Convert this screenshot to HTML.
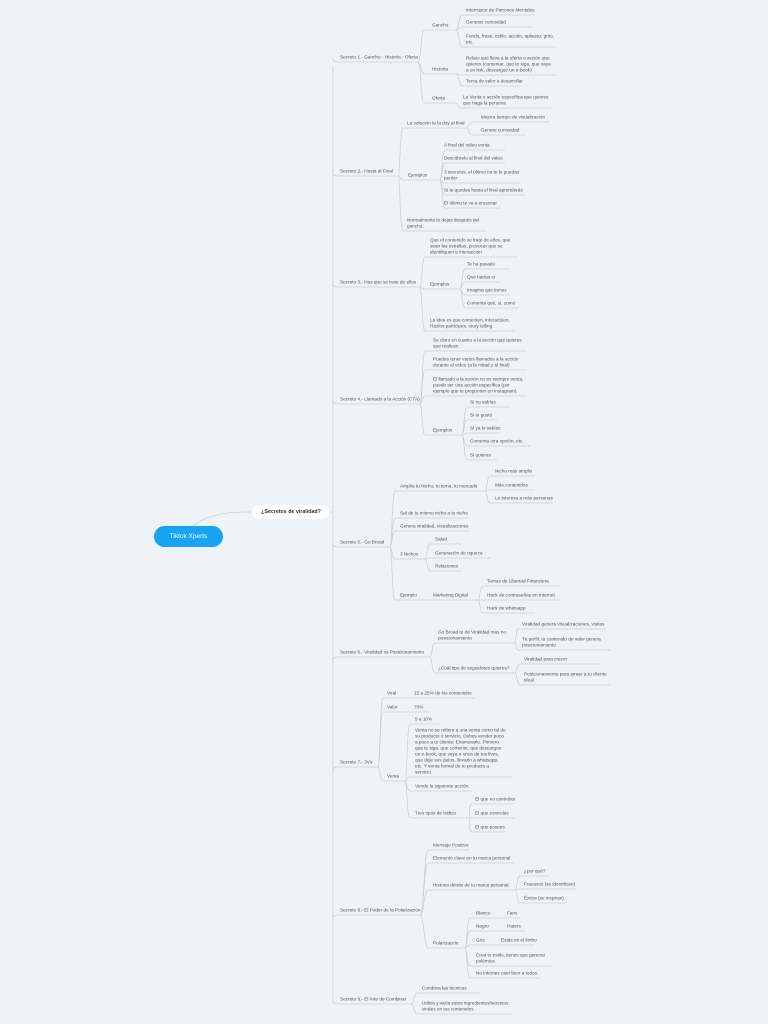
<!DOCTYPE html>
<html><head><meta charset="utf-8"><style>
body{margin:0;width:768px;height:1024px;background:#eef3f7;position:relative;overflow:hidden;font-family:"Liberation Sans",sans-serif}
.t{position:absolute;font-size:4.7px;line-height:6px;color:#555;white-space:nowrap;transform:translateY(calc(-100% - 1.5px))}
svg{position:absolute;left:0;top:0}
path{fill:none;stroke:#c9d2d9;stroke-width:0.8}
</style></head><body>
<svg width="768" height="1024">
<path d="M190 528 C210 512 232 512 252 512"/>
<path d="M330 512 H333"/>
<path d="M333 66 V1000"/>
<path d="M333 58 Q333 62 337 62 H418"/>
<path d="M333 172 Q333 176 337 176 H398"/>
<path d="M333 283 Q333 287 337 287 H420"/>
<path d="M333 400 Q333 404 337 404 H420"/>
<path d="M333 543 Q333 547 337 547 H390"/>
<path d="M333 661 Q333 657 337 657 H430"/>
<path d="M333 771 Q333 767 337 767 H378"/>
<path d="M333 919 Q333 915 337 915 H420"/>
<path d="M333 1000 Q333 1004 337 1004 H412"/>
<!-- S1 -->
<path d="M418 62 C421 62 421 30 424 30 H456"/>
<path d="M418 62 C421 62 421 74 424 74 H456"/>
<path d="M418 62 C421 62 421 103 424 103 H456"/>
<path d="M456 30 C459 30 459 15 462 15 H535"/>
<path d="M456 30 C459 30 459 27 462 27 H532"/>
<path d="M456 30 C459 30 459 47 462 47 H556"/>
<path d="M456 74 C459 74 459 75 462 75 H556"/>
<path d="M456 74 C459 74 459 86 462 86 H520"/>
<path d="M456 103 C458 103 458 108 460 108 H552"/>
<!-- S2 -->
<path d="M398 176 C400 176 400 128 403 128 H466"/>
<path d="M398 176 C400 176 400 180 403 180 H440"/>
<path d="M398 176 C400 176 400 231 403 231 H487"/>
<path d="M466 128 C469 128 469 122 472 122 H550"/>
<path d="M466 128 C469 128 469 135 472 135 H525"/>
<path d="M440 180 C442 180 442 150 445 150 H505"/>
<path d="M440 180 C442 180 442 163 445 163 H505"/>
<path d="M440 180 C442 180 442 183 445 183 H520"/>
<path d="M440 180 C442 180 442 195 445 195 H525"/>
<path d="M440 180 C442 180 442 208 445 208 H500"/>
<!-- S3 -->
<path d="M420 287 C422 287 422 257 425 257 H517"/>
<path d="M420 287 C422 287 422 289 425 289 H460"/>
<path d="M420 287 C422 287 422 331 425 331 H515"/>
<path d="M460 289 C462 289 462 269 465 269 H510"/>
<path d="M460 289 C462 289 462 282 465 282 H500"/>
<path d="M460 289 C462 289 462 295 465 295 H510"/>
<path d="M460 289 C462 289 462 308 465 308 H518"/>
<!-- S4 -->
<path d="M420 404 C422 404 422 351 425 351 H527"/>
<path d="M420 404 C422 404 422 370 425 370 H527"/>
<path d="M420 404 C422 404 422 396 425 396 H527"/>
<path d="M420 404 C422 404 422 435 425 435 H462"/>
<path d="M462 435 C464 435 464 407 467 407 H510"/>
<path d="M462 435 C464 435 464 420 467 420 H497"/>
<path d="M462 435 C464 435 464 433 467 433 H500"/>
<path d="M462 435 C464 435 464 446 467 446 H530"/>
<path d="M462 435 C464 435 464 460 467 460 H497"/>
<!-- S5 -->
<path d="M390 547 C392 547 392 491 395 491 H485"/>
<path d="M390 547 C392 547 392 518 395 518 H470"/>
<path d="M390 547 C392 547 392 531 395 531 H470"/>
<path d="M390 547 C392 547 392 559 395 559 H425"/>
<path d="M390 547 C392 547 392 600 395 600 H478"/>
<path d="M485 491 C487 491 487 476 490 476 H535"/>
<path d="M485 491 C487 491 487 490 490 490 H535"/>
<path d="M485 491 C487 491 487 503 490 503 H553"/>
<path d="M425 559 C427 559 427 544 430 544 H462"/>
<path d="M425 559 C427 559 427 558 430 558 H490"/>
<path d="M425 559 C427 559 427 571 430 571 H462"/>
<path d="M478 600 C480 600 480 586 483 586 H560"/>
<path d="M478 600 C480 600 480 600 483 600 H560"/>
<path d="M478 600 C480 600 480 613 483 613 H535"/>
<!-- S6 -->
<path d="M430 657 C432 657 432 643 435 643 H515"/>
<path d="M430 657 C432 657 432 673 435 673 H515"/>
<path d="M515 643 C516 643 516 629 518 629 H606"/>
<path d="M515 643 C516 643 516 650 518 650 H610"/>
<path d="M515 673 C517 673 517 664 520 664 H600"/>
<path d="M515 673 C517 673 517 685 520 685 H610"/>
<!-- S7 -->
<path d="M378 767 C380 767 380 698 383 698 H475"/>
<path d="M378 767 C380 767 380 712 383 712 H430"/>
<path d="M378 767 C380 767 380 781 383 781 H405"/>
<path d="M405 781 C407 781 407 724 410 724 H440"/>
<path d="M405 781 C407 781 407 777 410 777 H512"/>
<path d="M405 781 C407 781 407 791 410 791 H472"/>
<path d="M405 781 C407 781 407 818 410 818 H470"/>
<path d="M470 818 C470 818 468 804 472 804 H515"/>
<path d="M470 818 H515"/>
<path d="M470 818 C470 818 468 832 472 832 H505"/>
<!-- S8 -->
<path d="M420 915 C424 915 424 850 428 850 H470"/>
<path d="M420 915 C424 915 424 863 428 863 H515"/>
<path d="M420 915 C424 915 424 890 428 890 H515"/>
<path d="M420 915 C424 915 424 948 428 948 H465"/>
<path d="M515 890 C517 890 517 876 520 876 H550"/>
<path d="M515 890 C517 890 517 889 520 889 H576"/>
<path d="M515 890 C517 890 517 903 520 903 H565"/>
<path d="M465 948 C467 948 467 918 470 918 H520"/>
<path d="M465 948 C467 948 467 931 470 931 H525"/>
<path d="M465 948 C467 948 467 945 470 945 H535"/>
<path d="M465 948 C467 948 467 966 470 966 H552"/>
<path d="M465 948 C467 948 467 978 470 978 H540"/>
<!-- S9 -->
<path d="M412 1004 C414 1004 414 993 417 993 H480"/>
<path d="M412 1004 C414 1004 414 1014 417 1014 H512"/>
</svg>

<div style="position:absolute;left:154px;top:526px;width:69px;height:21px;border-radius:11px;background:#17a4f3;color:#fff;font-size:6.5px;line-height:21px;text-align:center">Tiktok Xperts</div>
<div style="position:absolute;left:252px;top:505px;width:78px;height:14px;border-radius:7px;background:#fff;color:#333;font-size:5.3px;font-weight:bold;line-height:14px;text-align:center">¿Secretos de viralidad?</div>

<div class=t style="left:340px;top:62px">Secreto 1.- Gancho - Historia - Oferta</div>
<div class=t style="left:432px;top:30px">Gancho</div>
<div class=t style="left:466px;top:15px">Interruptor de Patrones Mentales</div>
<div class=t style="left:466px;top:27px">Generar curiosidad</div>
<div class=t style="left:466px;top:47px">Fondo, frase, estilo, acción, aplauso, grito,<br>etc.</div>
<div class=t style="left:432px;top:74px">Historia</div>
<div class=t style="left:466px;top:75px">Relato que lleva a la oferta o acción que<br>quieres (comentar, que te siga, que vaya<br>a un link, descargue un e-book)</div>
<div class=t style="left:466px;top:86px">Tema de valor a desarrollar</div>
<div class=t style="left:432px;top:103px">Oferta</div>
<div class=t style="left:463px;top:108px">La Venta o acción específica que quieres<br>que haga la persona</div>

<div class=t style="left:340px;top:176px">Secreto 2.- Hasta al Final</div>
<div class=t style="left:407px;top:128px">La solución te la doy al final</div>
<div class=t style="left:481px;top:122px">Mejore tiempo de visualización</div>
<div class=t style="left:481px;top:135px">Genere curiosidad</div>
<div class=t style="left:408px;top:180px">Ejemplos</div>
<div class=t style="left:444px;top:150px">A final del video venta</div>
<div class=t style="left:444px;top:163px">Descúbrelo al final del video</div>
<div class=t style="left:444px;top:183px">3 secretos, el último no te lo puedas<br>perder</div>
<div class=t style="left:444px;top:195px">Si te quedas hasta el final aprenderás</div>
<div class=t style="left:444px;top:208px">El último te va a encantar</div>
<div class=t style="left:407px;top:231px">Normalmente lo dejas después del<br>gancho.</div>

<div class=t style="left:340px;top:287px">Secreto 3.- Haz que se trate de ellos</div>
<div class=t style="left:430px;top:257px">Que el contenido se trate de ellos, que<br>sean las estrellas, provocar que se<br>identifiquen e interacción</div>
<div class=t style="left:430px;top:289px">Ejemplos</div>
<div class=t style="left:467px;top:269px">Te ha pasado</div>
<div class=t style="left:467px;top:282px">Qué harías si</div>
<div class=t style="left:467px;top:295px">Imagina que tienes</div>
<div class=t style="left:467px;top:308px">Comenta qué, si, como</div>
<div class=t style="left:430px;top:331px">La idea es que comenten, interactúen.<br>Hazlos partícipes, story telling.</div>

<div class=t style="left:340px;top:404px">Secreto 4.- Llamado a la Acción (CTA)</div>
<div class=t style="left:433px;top:351px">Se claro en cuanto a la acción que quieres<br>que realicen</div>
<div class=t style="left:433px;top:370px">Puedes tener varios llamados a la acción<br>durante el video (a la mitad y al final)</div>
<div class=t style="left:433px;top:396px">El llamado a la acción no es siempre venta,<br>puede ser una acción específica (por<br>ejemplo que te pregunten en Instagram).</div>
<div class=t style="left:433px;top:435px">Ejemplos</div>
<div class=t style="left:470px;top:407px">Si no sabías</div>
<div class=t style="left:470px;top:420px">Si te gustó</div>
<div class=t style="left:470px;top:433px">Si ya lo sabías</div>
<div class=t style="left:470px;top:446px">Comenta otra opción, etc.</div>
<div class=t style="left:470px;top:460px">Si quieres</div>

<div class=t style="left:340px;top:547px">Secreto 5.- Go Broad</div>
<div class=t style="left:400px;top:491px">Amplía tu Nicho, tu tema, tu mercado</div>
<div class=t style="left:495px;top:476px">Nicho más amplio</div>
<div class=t style="left:495px;top:490px">Más contenidos</div>
<div class=t style="left:495px;top:503px">Le interesa a más personas</div>
<div class=t style="left:400px;top:518px">Sal de tu mismo nicho a tu nicho</div>
<div class=t style="left:400px;top:531px">Genera viralidad, visualizaciones</div>
<div class=t style="left:400px;top:559px">3 Nichos</div>
<div class=t style="left:435px;top:544px">Salud</div>
<div class=t style="left:435px;top:558px">Generación de riqueza</div>
<div class=t style="left:435px;top:571px">Relaciones</div>
<div class=t style="left:400px;top:600px">Ejemplo</div>
<div class=t style="left:433px;top:600px">Marketing Digital</div>
<div class=t style="left:487px;top:586px">Temas de Libertad Financiera</div>
<div class=t style="left:487px;top:600px">Hack de contraseñas en Internet</div>
<div class=t style="left:487px;top:613px">Hack de whatsapp</div>

<div class=t style="left:340px;top:657px">Secreto 6.- Viralidad vs Posicionamiento</div>
<div class=t style="left:438px;top:643px">Go Broad te da Viralidad mas no<br>posicionamiento</div>
<div class=t style="left:522px;top:629px">Viralidad genera visualizaciones, visitas</div>
<div class=t style="left:522px;top:650px">Tu perfil, tu contenido de valor genera<br>posicionamiento</div>
<div class=t style="left:438px;top:673px">¿Cuál tipo de seguidores quieres?</div>
<div class=t style="left:524px;top:664px">Viralidad para crecer</div>
<div class=t style="left:524px;top:685px">Posicionamiento para atraer a tu cliente<br>ideal</div>

<div class=t style="left:340px;top:767px">Secreto 7.- 3Vs</div>
<div class=t style="left:387px;top:698px">Viral</div>
<div class=t style="left:414px;top:698px">15 a 25% de los contenidos</div>
<div class=t style="left:387px;top:712px">Valor</div>
<div class=t style="left:414px;top:712px">70%</div>
<div class=t style="left:387px;top:781px">Venta</div>
<div class=t style="left:415px;top:724px">5 a 10%</div>
<div class=t style="left:415px;top:777px">Venta no se refiere a una venta como tal de<br>su producto o servicio. Debes vender poco<br>a poco a tu cliente. Enamorarlo. Primero<br>que te siga, que comente, que descargue<br>un e-book, que vaya a unos de tus lives,<br>que deje sus datos, llevarlo a whatsapp,<br>etc. Y venta formal de tu producto o<br>servicio.</div>
<div class=t style="left:415px;top:791px">Vende la siguiente acción.</div>
<div class=t style="left:415px;top:818px">Tres tipos de tráfico</div>
<div class=t style="left:475px;top:804px">El que no controlas</div>
<div class=t style="left:475px;top:818px">El que controlas</div>
<div class=t style="left:475px;top:832px">El que posees</div>

<div class=t style="left:340px;top:915px">Secreto 8.- El Poder de la Polarización</div>
<div class=t style="left:433px;top:850px">Mensaje Positivo</div>
<div class=t style="left:433px;top:863px">Elemento clave en tu marca personal</div>
<div class=t style="left:433px;top:890px">Historia detrás de tu marca personal</div>
<div class=t style="left:524px;top:876px">¿por qué?</div>
<div class=t style="left:524px;top:889px">Fracasos (se identifican)</div>
<div class=t style="left:524px;top:903px">Éxitos (se inspiran)</div>
<div class=t style="left:433px;top:948px">Polarización</div>
<div class=t style="left:476px;top:918px">Blanco</div>
<div class=t style="left:507px;top:918px">Fans</div>
<div class=t style="left:476px;top:931px">Negro</div>
<div class=t style="left:507px;top:931px">Haters</div>
<div class=t style="left:476px;top:945px">Gris</div>
<div class=t style="left:501px;top:945px">Estás en el limbo</div>
<div class=t style="left:476px;top:966px">Crea tu estilo, tienes que generar<br>polémica</div>
<div class=t style="left:476px;top:978px">No intentes caer bien a todos.</div>

<div class=t style="left:340px;top:1004px">Secreto 9.- El Arte de Combinar</div>
<div class=t style="left:422px;top:993px">Combina las técnicas</div>
<div class=t style="left:422px;top:1014px">Utiliza y varía estos ingredientes/secretos<br>virales en tus contenidos</div>
</body></html>
